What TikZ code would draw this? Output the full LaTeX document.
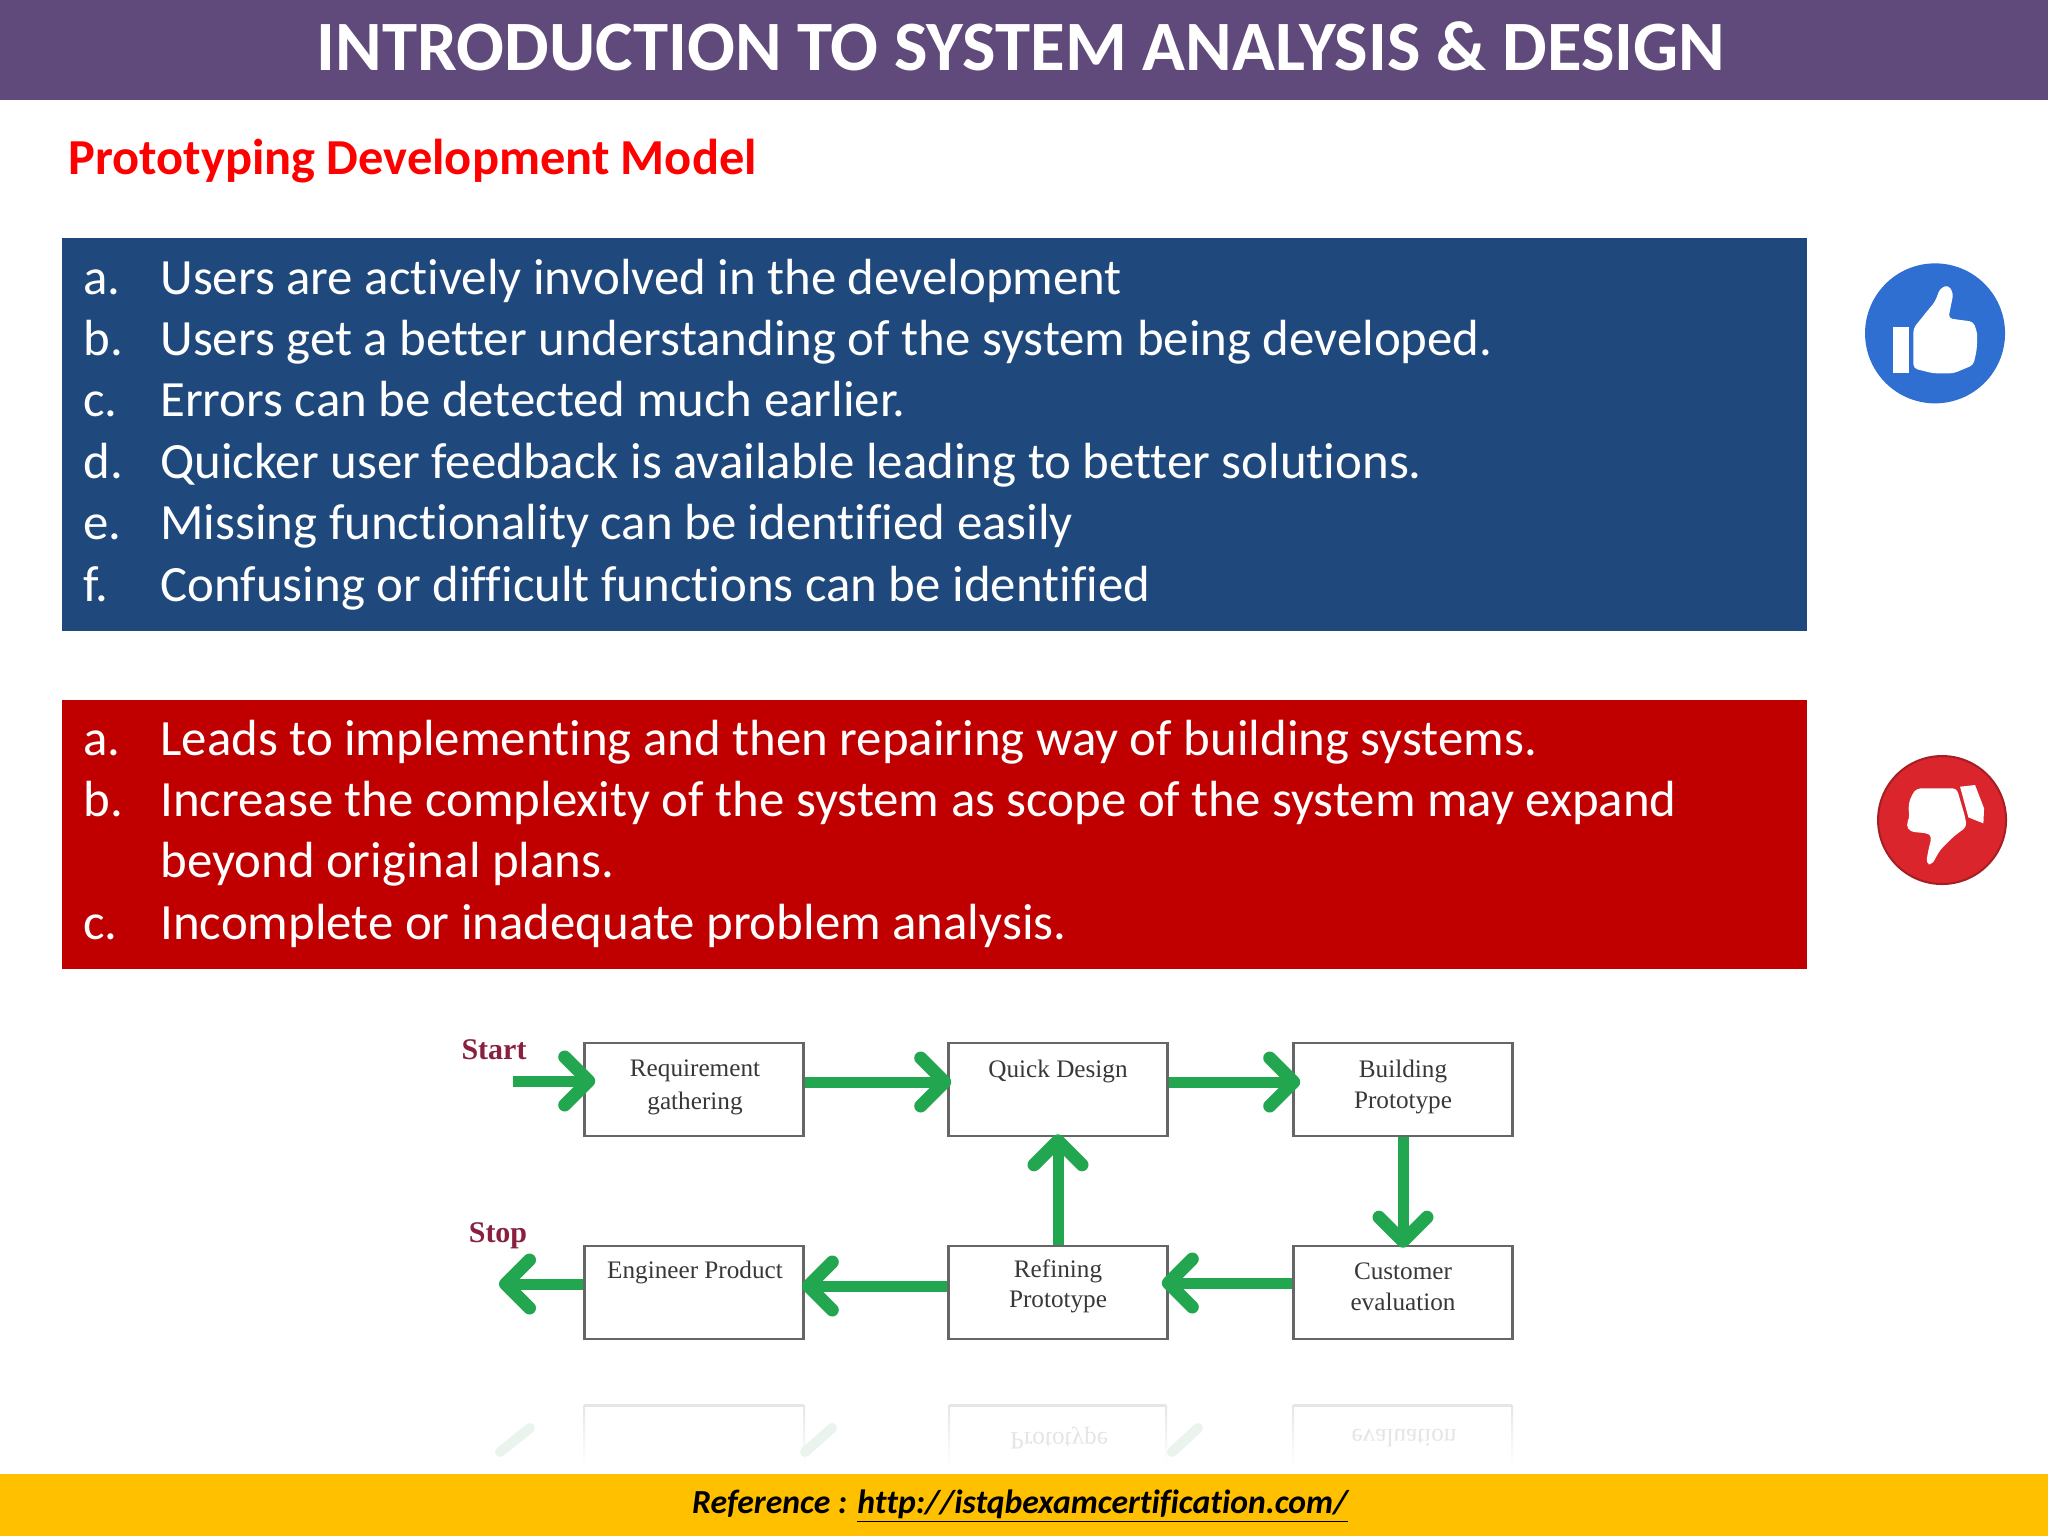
\documentclass[tikz,border=0pt]{standalone}
\usepackage{fontspec}
\setmainfont[Ligatures=NoCommon]{Carlito}
\newfontfamily\serifdia{Liberation Serif}
\usetikzlibrary{arrows.meta}
\definecolor{headpurple}{HTML}{604A7B}
\definecolor{boxblue}{HTML}{1F497D}
\definecolor{boxred}{HTML}{C00000}
\definecolor{footyellow}{HTML}{FFC000}
\definecolor{flowgreen}{HTML}{23A650}
\definecolor{likeblue}{HTML}{2F6FD2}
\definecolor{dislred}{HTML}{D9252B}
\definecolor{disledge}{HTML}{A51E24}
\definecolor{startred}{HTML}{8A2040}
\definecolor{ghost}{HTML}{E6E6E6}
\definecolor{ghostgreen}{HTML}{EAF3EC}
\tikzset{
  x=0.5pt,y=-0.5pt,
  item/.style={anchor=base west,inner sep=0pt,text=white,font=\fontsize{25.42}{30}\selectfont},
  flowbox/.style={draw=black!60,line width=1.3pt,fill=white,inner sep=0pt,minimum width=109.5pt,minimum height=46.5pt},
  flowtext/.style={inner sep=0pt,font=\serifdia\fontsize{12.6}{14}\selectfont,text=black!78},
  endtext/.style={inner sep=0pt,font=\serifdia\bfseries\fontsize{15}{17}\selectfont,text=startred},
  flow/.style={draw=flowgreen,line width=5.5pt,-{Straight Barb[round,length=12pt,width=24pt,line width=6.5pt]}},
  ghostline/.style={draw=ghost,line width=1.5pt},
}
\begin{document}
\begin{tikzpicture}
\useasboundingbox (0,0) rectangle (2048,1536);
\fill[white] (0,0) rectangle (2048,1536);
% bands
\fill[headpurple] (0,0) rectangle (2048,100);
\node[inner sep=0pt,text=white,font=\bfseries\fontsize{35.4}{40}\selectfont] (title) at (1021,46) {INTRODUCTION TO SYSTEM ANALYSIS \& DESIGN};
\node[anchor=base west,inner sep=0pt,text=red,font=\bfseries\fontsize{25.2}{28}\selectfont] (sub) at (68,174) {Prototyping Development Model};
\fill[boxblue] (62,238) rectangle (1807,631);
\fill[boxred] (62,700) rectangle (1807,969);
% blue items
\node[item] (ba) at (83,294) {a.};  \node[item] (bat) at (160,294) {Users are actively involved in the development};
\node[item] (bb) at (83,355.4) {b.}; \node[item] (bbt) at (160,355.4) {Users get a better understanding of the system being developed.};
\node[item] (bc) at (83,416.8) {c.}; \node[item] (bct) at (160,416.8) {Errors can be detected much earlier.};
\node[item] (bd) at (83,478.2) {d.}; \node[item] (bdt) at (160,478.2) {Quicker user feedback is available leading to better solutions.};
\node[item] (be) at (83,539.6) {e.}; \node[item] (bet) at (160,539.6) {Missing functionality can be identified easily};
\node[item] (bf) at (83,601) {f.};  \node[item] (bft) at (160,601) {Confusing or difficult functions can be identified};
% red items
\node[item] (ra) at (83,755) {a.};  \node[item] (rat) at (160,755) {Leads to implementing and then repairing way of building systems.};
\node[item] (rb) at (83,816.4) {b.}; \node[item] (rbt) at (160,816.4) {Increase the complexity of the system as scope of the system may expand};
\node[item] (rbu) at (160,877.8) {beyond original plans.};
\node[item] (rc) at (83,939.2) {c.}; \node[item] (rct) at (160,939.2) {Incomplete or inadequate problem analysis.};
% like icon
\begin{scope}[shift={(1820,240)},x=0.1667pt,y=-0.1667pt]
\fill[likeblue] (345,280) circle[radius=35pt];
\fill[white] (218,260) rectangle (268,400);
\fill[white,rounded corners=2pt] (280,265) -- (320,215) -- (345,185) -- (360,145) -- (385,135) -- (400,160) -- (385,235) -- (460,245) -- (472,280) -- (470,330) -- (460,375) -- (400,400) -- (340,400) -- (280,385) -- cycle;
\end{scope}
% dislike icon
\begin{scope}[shift={(1820,730)},x=0.1667pt,y=-0.1667pt]
\fill[dislred,draw=disledge,line width=1pt] (366,270) circle[radius=32pt];
\fill[white,rounded corners=2pt] (290,175) -- (410,175) -- (435,260) -- (440,290) -- (400,320) -- (360,360) -- (335,405) -- (318,400) -- (325,360) -- (335,320) -- (325,310) -- (270,305) -- (258,285) -- (268,265) -- (265,225) -- (275,195) -- cycle;
\fill[white] (420,170) -- (465,165) -- (492,235) -- (490,280) -- (445,262) -- cycle;
\end{scope}
% reflection (faded)
\foreach \xa/\xb in {584/804,949/1166,1293/1512}{
  \draw[ghostline] (\xa,1405) -- (\xb,1405);
  \shade[top color=ghost,bottom color=white] (\xa-1,1405) rectangle (\xa+1,1465);
  \shade[top color=ghost,bottom color=white] (\xb-1,1405) rectangle (\xb+1,1465);
}
\foreach \xa/\ya/\xb/\yb in {530/1428/500/1452,832/1428/805/1452,1198/1428/1172/1452}{
  \draw[ghostgreen,line width=5pt,line cap=round] (\xa,\ya) -- (\xb,\yb);
}
\node[inner sep=0pt,yscale=-1,font=\serifdia\fontsize{12.6}{14}\selectfont,text=black!10] (ghostp) at (1059,1438) {Prototype};
\node[inner sep=0pt,yscale=-1,font=\serifdia\fontsize{12.6}{14}\selectfont,text=black!10] (ghoste) at (1404,1438) {evaluation};
% flow boxes
\node[flowbox] (req)  at (694,1089.5) {};
\node[flowbox] (quick) at (1058,1089.5) {};
\node[flowbox] (build) at (1403,1089.5) {};
\node[flowbox] (eng)  at (694,1292.5) {};
\node[flowbox] (ref)  at (1058,1292.5) {};
\node[flowbox] (cust) at (1403,1292.5) {};
\node[flowtext] (t1) at (695,1071) {Requirement};
\node[flowtext] (t1b) at (695,1103) {gathering};
\node[flowtext] (t2) at (1058,1071) {Quick Design};
\node[flowtext] (t3) at (1403,1071) {Building};
\node[flowtext] (t3b) at (1403,1103) {Prototype};
\node[flowtext] (t4) at (695,1272) {Engineer Product};
\node[flowtext] (t5) at (1058,1271) {Refining};
\node[flowtext] (t5b) at (1058,1302) {Prototype};
\node[flowtext] (t6) at (1403,1271) {Customer};
\node[flowtext] (t6b) at (1403,1302) {evaluation};
\node[endtext] (start) at (494,1050) {Start};
\node[endtext] (stop) at (498,1236) {Stop};
\coordinate (startfree) at (513,1081);
\coordinate (stopfree) at (499,1284);
% connectors
\draw[flow] (startfree) -- ([xshift=6pt]startfree -| req.west);
\draw[flow] ([yshift=3.75pt]req.east) -- ([shift={(2pt,3.75pt)}]quick.west);
\draw[flow] ([yshift=3.75pt]quick.east) -- ([shift={(4pt,3.75pt)}]build.west);
\draw[flow] (build.south) -- ([yshift=-1.5pt]cust.north);
\draw[flow] ([yshift=4.75pt]cust.west) -- ([shift={(-3.5pt,4.75pt)}]ref.east);
\draw[flow] ([yshift=3.25pt]ref.west) -- ([shift={(-1.5pt,3.25pt)}]eng.east);
\draw[flow] ([yshift=4.25pt]eng.west) -- (stopfree);
\draw[flow] (ref.north) -- ([yshift=1.5pt]quick.south);
% footer
\fill[footyellow] (0,1474) rectangle (2048,1536);
\node[inner sep=0pt,text=black,font=\bfseries\itshape\fontsize{16.85}{20}\selectfont] (foot) at (1020,1506) {Reference : \underline{http://istqbexamcertification.com/}};
\end{tikzpicture}
\end{document}
